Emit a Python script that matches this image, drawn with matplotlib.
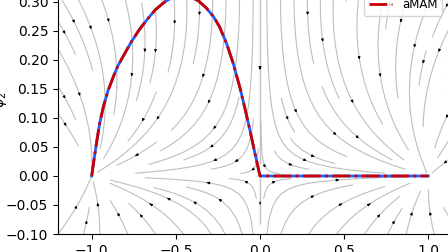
import numpy as np
import matplotlib
matplotlib.use("Agg")
import matplotlib.pyplot as plt

# Maier-Stein field parameter
beta = 10.0

# minimum action path
path_x = [-1.0, -0.99, -0.975, -0.953, -0.93, -0.903, -0.87, -0.844, -0.8, -0.765,
          -0.72, -0.686, -0.65, -0.62, -0.567, -0.52, -0.47, -0.42, -0.366, -0.32,
          -0.277, -0.24, -0.198, -0.16, -0.119, -0.09, -0.059, -0.03, 0.0,
          0.25, 0.5, 0.75, 1.0]
path_y = [0.0, 0.02, 0.05, 0.09, 0.12, 0.147, 0.172, 0.19, 0.213, 0.231,
          0.251, 0.264, 0.277, 0.287, 0.3, 0.308, 0.312, 0.31, 0.302, 0.29,
          0.275, 0.257, 0.228, 0.195, 0.152, 0.117, 0.078, 0.039, 0.0,
          0.0, 0.0, 0.0, 0.0]

# seeds for the invariant line x = 0 (top part, bottom part)
seed_top = [[0.0, 0.36]]
seed_bottom = [[0.0, -0.099]]

xticks = [-1.0, -0.5, 0.0, 0.5, 1.0]
yticks = [-0.10, -0.05, 0.00, 0.05, 0.10, 0.15, 0.20, 0.25, 0.30]

plt.rcParams['font.size'] = 10
fig = plt.figure(figsize=(4.48, 2.52), dpi=100)
# axes is larger than the visible crop (top and right run off the picture)
ax = fig.add_axes([58/448, 18/252, 404/448, 268/252])

xs = np.linspace(-1.2, 1.2, 61)
ys = np.linspace(-0.1, 0.362, 60)
X, Y = np.meshgrid(xs, ys)
U = X - X**3 - beta * X * Y**2
V = -(1 + X**2) * Y
ax.streamplot(X, Y, U, V, color='0.75', linewidth=0.8, density=1.0,
              arrowsize=0.3, arrowstyle='-|>')
ax.streamplot(X, Y, U, V, color='0.75', linewidth=1.0, start_points=seed_top,
              integration_direction='forward', maxlength=0.76,
              arrowsize=0.3, arrowstyle='-|>')
ax.streamplot(X, Y, U, V, color='0.75', linewidth=1.0, start_points=seed_bottom,
              integration_direction='forward', maxlength=0.21,
              arrowsize=0.01, arrowstyle='-')
for p in ax.patches:
    p.set_color('k')

ax.plot(path_x, path_y, color='#1f5fff', lw=2, label='MAM')
ax.plot(path_x, path_y, color='#cc0000', lw=2, ls='-.', label='aMAM')

ax.set_xlim(-1.2, 1.2)
ax.set_ylim(-0.1, 0.362)
ax.set_xticks(xticks)
ax.set_yticks(yticks)
ax.set_ylabel(r'$\varphi_2$')
ax.yaxis.set_label_coords(-0.122, 0.5)
ax.set_xlabel(r'$\varphi_1$')
ax.legend(loc='lower right', bbox_to_anchor=(442/448, 1 - 16/252),
          bbox_transform=fig.transFigure, borderaxespad=0, fontsize=8.5)

fig.savefig('out.png', dpi=100)
